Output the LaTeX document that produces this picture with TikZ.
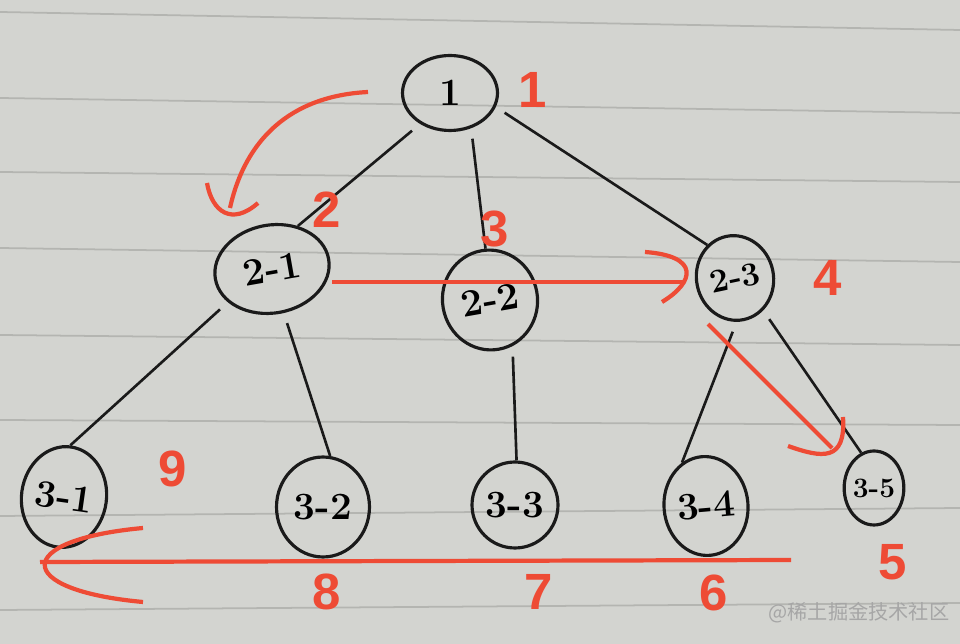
\documentclass[tikz,border=0pt]{standalone}
\usepackage{fontspec}
\setsansfont{Liberation Sans}
\newfontfamily\cjk{Noto Sans CJK SC}
\usetikzlibrary{shapes.geometric}

\definecolor{paper}{HTML}{D3D4D0}
\definecolor{ruling}{HTML}{B4B5B1}
\definecolor{ink}{HTML}{1A1A1A}
\definecolor{pen}{HTML}{EE4B35}
\definecolor{wmgray}{HTML}{A6A6A6}

\begin{document}
\begin{tikzpicture}[x=0.02cm,y=-0.02cm,
	knot/.style={draw=ink,line width=1.8pt,shape=ellipse,inner sep=0pt,font=\bfseries\fontsize{22}{22}\selectfont},
	branch/.style={draw=ink,line width=1.5pt,shorten <=6pt},
	redpen/.style={draw=pen,line width=2.4pt},
	order/.style={text=pen,font=\sffamily\bfseries\fontsize{29}{29}\selectfont}]

	% paper and its ruled lines
	\fill[paper] (0,0) rectangle (960,644);
	\useasboundingbox (0,0) rectangle (960,644);
	\foreach \ya/\yb in {12/30, 98/113, 172/182, 248/262, 335/345, 420/425, 516/508, 610/603} {
		\draw[ruling,line width=1pt] (0,\ya) -- (960,\yb);
	}

	% tree
	\node[knot,minimum width=1.90cm,minimum height=1.50cm] (n1) at (450,93) {1};

	\node[knot,minimum width=2.30cm,minimum height=1.76cm,rotate=10] (n21) at (272,269) {2-1};
	\node[knot,minimum width=1.90cm,minimum height=2.00cm,rotate=10] (n22) at (490,300) {2-2};
	\node[knot,minimum width=1.54cm,minimum height=1.70cm,rotate=12,font=\bfseries\fontsize{19}{19}\selectfont] (n23) at (735,278) {2-3};

	\node[knot,minimum width=1.70cm,minimum height=2.02cm,rotate=-8] (n31) at (64,497) {3-1};
	\node[knot,minimum width=1.86cm,minimum height=2.00cm] (n32) at (323,507) {3-2};
	\node[knot,minimum width=1.72cm,minimum height=1.72cm] (n33) at (515,505) {3-3};
	\node[knot,minimum width=1.68cm,minimum height=1.98cm,rotate=5] (n34) at (706,506) {3-4};
	\node[knot,minimum width=1.12cm,minimum height=1.48cm,font=\bfseries\fontsize{16}{16}\selectfont] (n35) at (874,488) {3-5};

	\draw[branch] (n1.226) -- (n21.49);
	\draw[branch] (n1.301) -- (n22.85);
	\draw[branch] (n1.343) -- (n23.118);
	\draw[branch] (n21.207) -- (n31.91);
	\draw[branch] (n21.275) -- (n32.82);
	\draw[branch] (n22.286) -- (n33.88);
	\draw[branch] (n23.260) -- (n34.114);
	\draw[branch] (n23.299) -- (n35.110);

	% red traversal marks
	\coordinate (a0) at (368,92);
	\coordinate (a1) at (230,208);
	\draw[redpen] (a0) .. controls (290,96) and (245,140) .. (a1);
	\draw[redpen] (207,183) .. controls (212,212) and (232,226) .. (258,203);

	\coordinate (h0) at (332,282);
	\coordinate (h1) at (684,282);
	\draw[redpen] (h0) -- (h1);
	\draw[redpen] (645,252) .. controls (700,256) and (695,282) .. (662,302);

	\coordinate (d0) at (708,324);
	\coordinate (d1) at (832,448);
	\draw[redpen] (d0) -- (d1);
	\draw[redpen] (843,417) .. controls (846,462) and (822,458) .. (788,446);

	\coordinate (b0) at (791,560);
	\coordinate (b1) at (40,562);
	\draw[redpen] (b0) -- (b1);
	\draw[redpen] (143,528) .. controls (12,540) and (12,590) .. (143,602);

	\node[order] (o1) at (533,90) {1};
	\node[order] (o2) at (327,210) {2};
	\node[order] (o3) at (495,229) {3};
	\node[order] (o4) at (828,278) {4};
	\node[order] (o5) at (893,562) {5};
	\node[order] (o6) at (714,593) {6};
	\node[order] (o7) at (539,592) {7};
	\node[order] (o8) at (327,592) {8};
	\node[order] (o9) at (173,469) {9};

	\node[text=wmgray,font=\cjk\fontsize{11.5}{12}\selectfont] (wm) at (859,613) {@稀土掘金技术社区};

\end{tikzpicture}
\end{document}
